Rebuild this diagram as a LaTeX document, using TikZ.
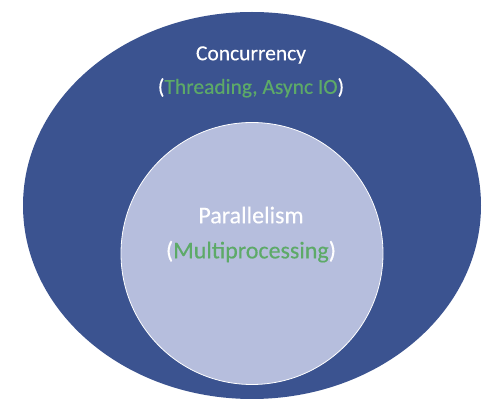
\documentclass[tikz,border=0pt]{standalone}
\usepackage{fontspec}
\newfontfamily\setfont{Carlito}[FakeBold=0.35]
\usepackage{tikz}
\usetikzlibrary{shapes.geometric, positioning}

\definecolor{concblue}{HTML}{3B5390}
\definecolor{parlav}{HTML}{B6BEDD}
\definecolor{libgreen}{HTML}{5DAA68}

\begin{document}
\begin{tikzpicture}[
    x=1pt, y=-1pt,
    outerset/.style={ellipse, fill=concblue, minimum width=458pt, minimum height=387pt, inner sep=0pt},
    innerset/.style={circle, fill=parlav, draw=white, line width=0.8pt, minimum size=262pt, inner sep=0pt},
    label/.style={text=white, font=\setfont\fontsize{#1}{#1}\selectfont, inner sep=0pt}
]
    \useasboundingbox[fill=white] (0,0) rectangle (504,411);

    \node[outerset] (conc) at (252,205.5) {};
    \node[innerset] (par) at (252,253.5) {};

    \node[label=21.5] (conc_title) at (251,55) {Concurrency};
    \node[label=21.5, below=14pt of conc_title] (conc_libs) {(\textcolor{libgreen}{Threading, Async IO})};

    \node[label=24] (par_title) at (251,215) {Parallelism};
    \node[label=24, below=17pt of par_title] (par_libs) {(\textcolor{libgreen}{Multiprocessing})};
\end{tikzpicture}
\end{document}
